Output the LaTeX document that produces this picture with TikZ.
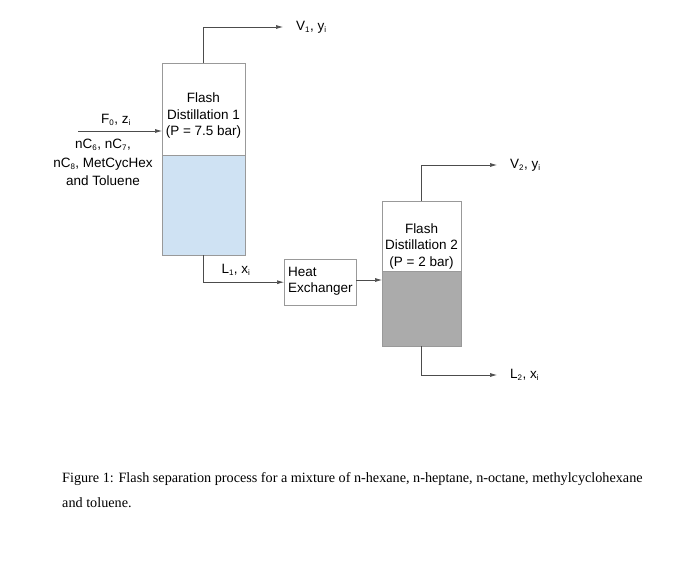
\documentclass[tikz,border=0pt]{standalone}
\usepackage{fontspec}
\setmainfont{Liberation Serif}
\newfontfamily\arialf{Liberation Sans}
\usetikzlibrary{arrows.meta}
\definecolor{liq}{HTML}{CFE2F3}
\newcommand{\sbs}[1]{\textsubscript{\fontsize{8}{8}\selectfont #1}}
\begin{document}
\begin{tikzpicture}[x=1pt,y=-1pt,
  lbl/.style={font=\arialf\fontsize{13.5}{16.5}\selectfont,inner sep=0pt,align=center},
  conn/.style={draw=black!70,line width=0.7pt},
  arr/.style={conn,-{Latex[length=7pt,width=4pt]}}]
\useasboundingbox (0,0) rectangle (700,571);
% column 1
\fill[liq] (162,155) rectangle (245,255);
\draw[draw=black!40] (162,63) rectangle (245,255);
\draw[draw=black!40] (162,155) -- (245,155);
\node[lbl] (c1) at (203.5,116) {Flash\\Distillation 1\\(P = 7.5 bar)};
\coordinate (c1top) at (203,63);
\coordinate (c1bot) at (203,255);
\coordinate (c1in) at (162,131);
% column 2
\fill[black!33] (382,271) rectangle (461,346);
\draw[draw=black!40] (382,201) rectangle (461,346);
\draw[draw=black!40] (382,271) -- (461,271);
\node[lbl] (c2) at (421.5,246) {Flash\\Distillation 2\\(P = 2 bar)};
\coordinate (c2top) at (421,201);
\coordinate (c2bot) at (421,346);
\coordinate (c2in) at (382,280);
% heat exchanger
\node[draw=black!40,minimum width=72pt,minimum height=46pt,inner sep=3pt,anchor=north west] (hx) at (284,259) {};
\node[lbl,align=left,anchor=west] (hxt) at (288,281) {Heat\\Exchanger};
% streams
\coordinate (feed) at (78,131);
\coordinate (v1) at (283,27);
\coordinate (v2) at (497,165);
\coordinate (l2) at (497,375);
\draw[arr] (feed) -- (c1in);
\draw[arr] (c1top) |- (v1);
\draw[arr] (c1bot) |- (hx.west);
\draw[arr] (hx.east |- c2in) -- (c2in);
\draw[arr] (c2top) |- (v2);
\draw[arr] (c2bot) |- (l2);
% labels
\node[lbl,anchor=west] (v1l) at (296,27) {V\sbs{1}, y\sbs{i}};
\node[lbl,anchor=west] (v2l) at (510,165) {V\sbs{2}, y\sbs{i}};
\node[lbl,anchor=west] (l2l) at (510,375) {L\sbs{2}, x\sbs{i}};
\node[lbl] (l1l) at (236,270) {L\sbs{1}, x\sbs{i}};
\node[lbl] (f0) at (116,120) {F\sbs{0}, z\sbs{i}};
\node[lbl,anchor=north,font=\arialf\fontsize{13.5}{18.5}\selectfont] (comp) at (103,139) {nC\sbs{6}, nC\sbs{7},\\nC\sbs{8}, MetCycHex\\and Toluene};
% caption
\node[anchor=west,inner sep=0pt,font=\fontsize{14.2}{16}\selectfont] (cap1) at (62,479) {Figure 1: Flash separation process for a mixture of n-hexane, n-heptane, n-octane, methylcyclohexane};
\node[anchor=west,inner sep=0pt,font=\fontsize{14.2}{16}\selectfont] (cap2) at (62,503) {and toluene.};
\end{tikzpicture}
\end{document}
